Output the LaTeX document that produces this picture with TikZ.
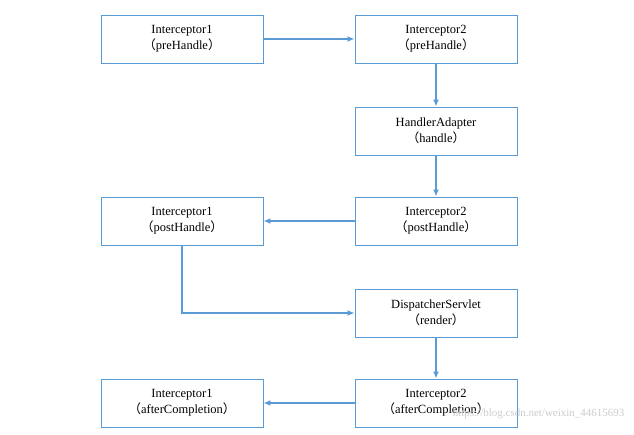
\documentclass[tikz,border=0pt]{standalone}
\usepackage{fontspec}
\setmainfont{Liberation Serif}
\newfontfamily\cjk{Noto Sans CJK SC}
\usetikzlibrary{arrows.meta}
\definecolor{bl}{HTML}{5B9BD5}
\newcommand{\pp}[1]{{\cjk （}#1{\cjk ）}}
\begin{document}
\begin{tikzpicture}[x=1pt,y=-1pt,
  box/.style={draw=bl,line width=0.9pt,minimum width=162pt,minimum height=48pt,align=center,font=\fontsize{12.5}{16}\selectfont,inner sep=0pt},
  arr/.style={draw=bl,line width=1.4pt,-{Latex[length=7pt,width=6pt]}}]
\useasboundingbox (0,0) rectangle (634,435);
\fill[white] (0,0) rectangle (634,435);
\node[box] (a) at (182,39) {Interceptor1\\\pp{preHandle}};
\node[box] (b) at (436,39) {Interceptor2\\\pp{preHandle}};
\node[box] (c) at (436,131) {HandlerAdapter\\\pp{handle}};
\node[box] (d) at (436,221) {Interceptor2\\\pp{postHandle}};
\node[box] (e) at (182,221) {Interceptor1\\\pp{postHandle}};
\node[box] (f) at (436,313) {DispatcherServlet\\\pp{render}};
\node[box] (g) at (436,403) {Interceptor2\\\pp{afterCompletion}};
\node[box] (h) at (182,403) {Interceptor1\\\pp{afterCompletion}};
\draw[arr] (a) -- (b);
\draw[arr] (b) -- (c);
\draw[arr] (c) -- (d);
\draw[arr] (d) -- (e);
\draw[arr] (e.south) |- (f.west);
\draw[arr] (f) -- (g);
\draw[arr] (g) -- (h);
\node[text=gray!40,font=\fontsize{11}{13}\selectfont,anchor=east] (w) at (628,414) {https://blog.csdn.net/weixin\_44615693};
\end{tikzpicture}
\end{document}
